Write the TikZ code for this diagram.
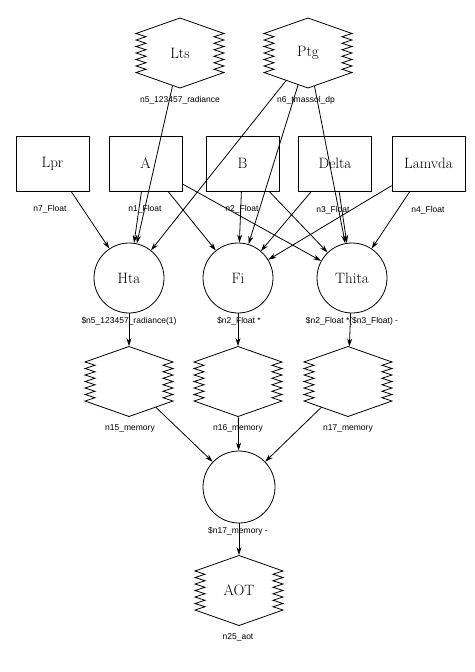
\documentclass[tikz,border=0pt]{standalone}
\usepackage{fontspec}
\newfontfamily\lblfont{Liberation Sans}
\usetikzlibrary{arrows.meta,shapes.geometric}
\newcommand\zighex[1]{%
  \begin{scope}[shift={(#1.center)}]
    \draw (0,-35) -- (44,-19.5)
      \foreach \k in {1,...,12} { -- ({44-10*mod(\k,2)},{-19.5+3.25*\k}) }
      -- (0,35) -- (-44,19.5)
      \foreach \k in {1,...,12} { -- ({-44+10*mod(\k,2)},{19.5-3.25*\k}) }
      -- cycle;
  \end{scope}}
\begin{document}
\begin{tikzpicture}[x=1pt,y=-1pt,line width=0.8pt,
  every node/.style={inner sep=0pt},
  big/.style={font=\fontsize{15}{18}\selectfont},
  lbl/.style={font=\lblfont\fontsize{8.5}{10}\selectfont},
  box/.style={draw,big,minimum width=73pt,minimum height=55pt},
  circ/.style={draw,big,circle,minimum size=70pt},
  hex/.style={big,diamond,minimum width=198pt,minimum height=70pt},
  arr/.style={-{Stealth[length=8pt,width=5pt]}}]
\useasboundingbox (0,0) rectangle (474,672);
\fill[white] (0,0) rectangle (474,672);

% top row
\node[hex] (lts) at (180,53) {Lts};
\node[hex] (ptg) at (308,53) {Ptg};
\zighex{lts}\zighex{ptg}
\node[lbl] (llts) at (180,100) {n5\_123457\_radiance};
\node[lbl] (lptg) at (306,100) {n6\_tmassol\_dp};

% boxes
\node[box] (lpr) at (52.5,163.5) {Lpr};
\node[box] (a) at (145.5,163.5) {A};
\node[box] (b) at (242.5,163.5) {B};
\node[box] (delta) at (335,163.5) {Delta};
\node[box] (lamvda) at (428.5,163.5) {Lamvda};
\node[lbl] (llpr) at (50,209) {n7\_Float};
\node[lbl] (la) at (145,209) {n1\_Float};
\node[lbl] (lb) at (242,209) {n2\_Float};
\node[lbl] (ldelta) at (333,210) {n3\_Float};
\node[lbl] (llamvda) at (428,210) {n4\_Float};

% circles
\node[circ] (hta) at (129,278) {Hta};
\node[circ] (fi) at (238,278) {Fi};
\node[circ] (thita) at (352,278) {Thita};
\node[lbl] (lhta) at (129,321) {\$n5\_123457\_radiance(1)};
\node[lbl] (lfi) at (239,321) {\$n2\_Float *};
\node[lbl] (lthita) at (352,321) {\$n2\_Float *(\$n3\_Float) -};

% memories
\node[hex] (m15) at (129,381.5) {};
\node[hex] (m16) at (238,381.5) {};
\node[hex] (m17) at (348,381.5) {};
\zighex{m15}\zighex{m16}\zighex{m17}
\node[lbl] (l15) at (130,428) {n15\_memory};
\node[lbl] (l16) at (238,428) {n16\_memory};
\node[lbl] (l17) at (348,428) {n17\_memory};

% bottom
\node[circ,minimum size=72pt] (sum) at (239,487) {};
\node[lbl] (lsum) at (238,531) {\$n17\_memory -};
\node[hex] (aot) at (239,590.5) {AOT};
\zighex{aot}
\node[lbl] (laot) at (238,637) {n25\_aot};

% edges
\draw[arr] (lts) -- (hta);
\draw[arr] (ptg) -- (hta);
\draw[arr] (ptg) -- (fi);
\draw[arr] (ptg) -- (thita);
\draw[arr] (lpr) -- (hta);
\draw[arr] (a) -- (hta);
\draw[arr] (a) -- (fi);
\draw[arr] (a) -- (thita);
\draw[arr] (b) -- (fi);
\draw[arr] (b) -- (thita);
\draw[arr] (delta) -- (fi);
\draw[arr] (delta) -- (thita);
\draw[arr] (lamvda) -- (fi);
\draw[arr] (lamvda) -- (thita);
\draw[arr] (hta) -- (m15);
\draw[arr] (fi) -- (m16);
\draw[arr] (thita) -- (m17);
\draw[arr] (m15) -- (sum);
\draw[arr] (m16) -- (sum);
\draw[arr] (m17) -- (sum);
\draw[arr] (sum) -- (aot);
\end{tikzpicture}
\end{document}
